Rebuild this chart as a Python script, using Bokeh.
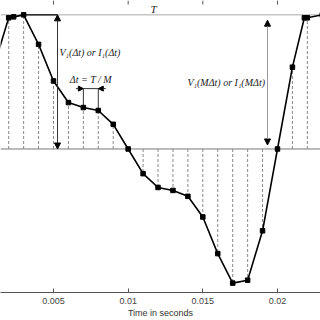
import numpy as np
from bokeh.plotting import figure
from bokeh.models import Range1d, FixedTicker, Arrow, NormalHead, Label
from bokeh.embed import file_html
from bokeh.resources import INLINE

# sampled waveform (time in seconds, normalised amplitude)
t_line = [0.001, 0.002, 0.00233, 0.003, 0.004, 0.005, 0.006, 0.007, 0.008, 0.009, 0.010,
          0.011, 0.012, 0.013, 0.014, 0.015, 0.016, 0.017, 0.018, 0.019, 0.020,
          0.021, 0.0218, 0.022, 0.023]
v_line = [0.61, 0.978, 0.985, 1.0, 0.78, 0.507, 0.346, 0.309, 0.287, 0.184, 0.0,
          -0.184, -0.287, -0.309, -0.353, -0.507, -0.78, -1.0, -0.978, -0.61, 0.0,
          0.61, 0.978, 0.978, 1.0]
is_sample = [1, 1, 0, 1, 1, 1, 1, 1, 1, 1, 1,
             1, 1, 1, 1, 1, 1, 1, 1, 1, 1,
             1, 0, 1, 1]

x_ticks = [0.005, 0.01, 0.015, 0.02]
x_tick_labels = ["0.005", "0.01", "0.015", "0.02"]

peak_level = 1.0
arrow1_t = 0.00527
arrow2_t = 0.01933
dt_level = 0.45
dt_left, dt_right = 0.007, 0.008

t_arr = np.array(t_line)
v_arr = np.array(v_line)
mask = np.array(is_sample) == 1

p = figure(width=320, height=320, output_backend="svg", toolbar_location=None,
           x_range=Range1d(0.001451, 0.02288), y_range=Range1d(-1.070, 1.107),
           min_border_left=0, min_border_right=0, min_border_top=0, min_border_bottom=25)
p.outline_line_color = None
p.yaxis.visible = False
p.xgrid.visible = False
p.ygrid.visible = False
p.background_fill_color = "white"

xa = p.xaxis[0]
xa.ticker = FixedTicker(ticks=x_ticks)
xa.major_label_overrides = {t: s for t, s in zip(x_ticks, x_tick_labels)}
xa.minor_tick_line_color = None
xa.major_tick_in = 4
xa.major_tick_out = 0
xa.axis_line_color = "#555555"
xa.major_tick_line_color = "#555555"
xa.major_label_text_font = "Liberation Sans"
xa.major_label_text_font_size = "9px"
xa.major_label_text_color = "#444444"
xa.major_label_standoff = 5
xa.axis_label = "Time in seconds"
xa.axis_label_text_font = "Liberation Sans"
xa.axis_label_text_font_style = "normal"
xa.axis_label_text_font_size = "9px"
xa.axis_label_text_color = "#333333"
xa.axis_label_standoff = 1

# top-frame ticks
y_top = 1.107
p.segment(x0=x_ticks, y0=[y_top] * 4, x1=x_ticks, y1=[y_top - 0.03] * 4,
          line_color="#555555", line_width=1)

# reference lines
p.line(x=[0.001451, 0.02288], y=[0, 0], line_color="#777777", line_width=1)
p.line(x=[0.001451, 0.02288], y=[peak_level, peak_level], line_color="#aaaaaa", line_width=1)

# dashed sample lines
p.segment(x0=t_arr[mask], y0=np.zeros(mask.sum()), x1=t_arr[mask], y1=v_arr[mask],
          line_color="#888888", line_dash="3 2", line_width=1)

# black top segment to first arrow
p.line(x=[0.003, arrow1_t], y=[peak_level, peak_level], line_color="black", line_width=1.3)

# vertical arrows
p.add_layout(Arrow(x_start=arrow1_t, y_start=0.5, x_end=arrow1_t, y_end=peak_level,
                   line_color="#333333", line_width=1,
                   end=NormalHead(size=6, fill_color="black", line_color="black")))
p.add_layout(Arrow(x_start=arrow1_t, y_start=0.5, x_end=arrow1_t, y_end=0.0,
                   line_color="#333333", line_width=1,
                   end=NormalHead(size=6, fill_color="black", line_color="black")))
p.add_layout(Arrow(x_start=arrow2_t, y_start=0.5, x_end=arrow2_t, y_end=0.96,
                   line_color="#999999", line_width=1,
                   end=NormalHead(size=6, fill_color="black", line_color="black")))
p.add_layout(Arrow(x_start=arrow2_t, y_start=0.5, x_end=arrow2_t, y_end=0.03,
                   line_color="#999999", line_width=1,
                   end=NormalHead(size=6, fill_color="black", line_color="black")))

# delta t bracket
p.segment(x0=[dt_left, dt_right], y0=[dt_level, dt_level], x1=[dt_left, dt_right],
          y1=[0.309, 0.287], line_color="#333333", line_width=1)
p.line(x=[dt_left, dt_right], y=[dt_level, dt_level], line_color="#333333", line_width=1)
p.add_layout(Arrow(x_start=0.0065, y_start=dt_level, x_end=dt_left, y_end=dt_level,
                   line_color="#333333", line_width=1,
                   end=NormalHead(size=5, fill_color="black", line_color="black")))
p.add_layout(Arrow(x_start=0.0085, y_start=dt_level, x_end=dt_right, y_end=dt_level,
                   line_color="#333333", line_width=1,
                   end=NormalHead(size=5, fill_color="black", line_color="black")))

# waveform
p.line(x=t_line, y=v_line, line_color="black", line_width=1.6)
p.scatter(x=t_line, y=v_line, marker="square", size=4.5, fill_color="black", line_color="black")

# annotations
lab_kw = dict(text_font="Liberation Serif", text_font_style="italic",
              text_color="#222222", text_baseline="middle")
p.add_layout(Label(x=arrow1_t + 0.00013, y=0.716, text="V\u2081(\u0394t) or I\u2081(\u0394t)",
                   text_font_size="10px", **lab_kw))
p.add_layout(Label(x=0.01397, y=0.494, text="V\u2081(M\u0394t) or I\u2081(M\u0394t)",
                   text_font_size="10px", **lab_kw))
p.add_layout(Label(x=0.0075, y=0.517, text="\u0394t = T / M", text_align="center",
                   text_font_size="10px", **lab_kw))
p.add_layout(Label(x=0.0117, y=1.04, text="T", text_align="center",
                   text_font_size="11px", **lab_kw))

open("out.html", "w").write(file_html(p, INLINE))
